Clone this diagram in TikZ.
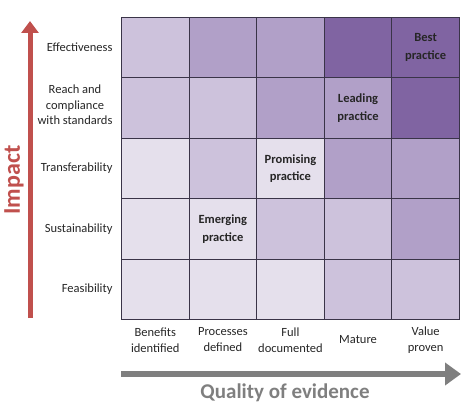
\documentclass[tikz,border=0pt]{standalone}
\usepackage{fontspec}
\setmainfont{Carlito}
\usetikzlibrary{arrows.meta}
\definecolor{pA}{HTML}{E5E0EC}
\definecolor{pB}{HTML}{CDC2DC}
\definecolor{pC}{HTML}{B1A0C8}
\definecolor{pD}{HTML}{8064A2}
\definecolor{redarrow}{HTML}{C0504D}
\definecolor{grayarrow}{HTML}{7F7F7F}
\definecolor{gridline}{HTML}{3A3448}
\definecolor{labeltext}{HTML}{262626}
\begin{document}
\begin{tikzpicture}[x=1pt,y=-1pt,
  cell/.style={draw=gridline, line width=0.9pt, minimum width=67.6pt, minimum height=60.4pt, inner sep=0pt, anchor=north west},
  celltext/.style={font=\fontsize{12.5}{17.5}\selectfont\bfseries, align=center, text=labeltext},
  rowlabel/.style={font=\fontsize{12.5}{15.5}\selectfont, align=center, anchor=east, xshift=-5pt, text=labeltext},
  collabel/.style={font=\fontsize{12.5}{16}\selectfont, align=center, yshift=-20pt, text=labeltext},
  axistitle/.style={font=\fontsize{21}{24}\selectfont\bfseries}
]
\useasboundingbox (0,0) rectangle (474,412);

% grid of cells
\foreach \r/\cols in {1/{pB,pC,pC,pD,pD},
                      2/{pB,pB,pC,pC,pD},
                      3/{pA,pB,pA,pC,pC},
                      4/{pA,pA,pB,pB,pC},
                      5/{pA,pA,pA,pB,pB}}{
  \foreach \col [count=\c] in \cols {
    \node[cell, fill=\col] (cell-\r-\c) at ({121+(\c-1)*67.6},{17+(\r-1)*60.4}) {};
  }
}

% cell texts
\node[celltext] (best) at (cell-1-5) {Best\\practice};
\node[celltext] (leading) at (cell-2-4) {Leading\\practice};
\node[celltext] (promising) at (cell-3-3) {Promising\\practice};
\node[celltext] (emerging) at (cell-4-2) {Emerging\\practice};

% row labels
\node[rowlabel] (rl1) at (cell-1-1.west) {Effectiveness};
\node[rowlabel, yshift=3pt] (rl2) at (cell-2-1.west) {Reach and\\compliance\\with standards};
\node[rowlabel] (rl3) at (cell-3-1.west) {Transferability};
\node[rowlabel] (rl4) at (cell-4-1.west) {Sustainability};
\node[rowlabel] (rl5) at (cell-5-1.west) {Feasibility};

% column labels
\node[collabel] (cl1) at (cell-5-1.south) {Benefits\\identified};
\node[collabel] (cl2) at (cell-5-2.south) {Processes\\defined};
\node[collabel] (cl3) at (cell-5-3.south) {Full\\documented};
\node[collabel] (cl4) at (cell-5-4.south) {Mature};
\node[collabel] (cl5) at (cell-5-5.south) {Value\\proven};

% axes
\coordinate (impactstart) at (30,318);
\coordinate (impactend) at (30,21);
\draw[redarrow, line width=5pt, -{Triangle[width=17pt,length=12pt]}] (impactstart) -- (impactend);
\coordinate (qualstart) at (121,374);
\coordinate (qualend) at (461,374);
\draw[grayarrow, line width=6pt, -{Triangle[width=22pt,length=16pt]}] (qualstart) -- (qualend);

\node[axistitle, font=\fontsize{24}{28}\selectfont\bfseries, rotate=90, text=redarrow] (impact) at (14,180) {Impact};
\node[axistitle, text=grayarrow] (quality) at (285,393) {Quality of evidence};
\end{tikzpicture}
\end{document}
